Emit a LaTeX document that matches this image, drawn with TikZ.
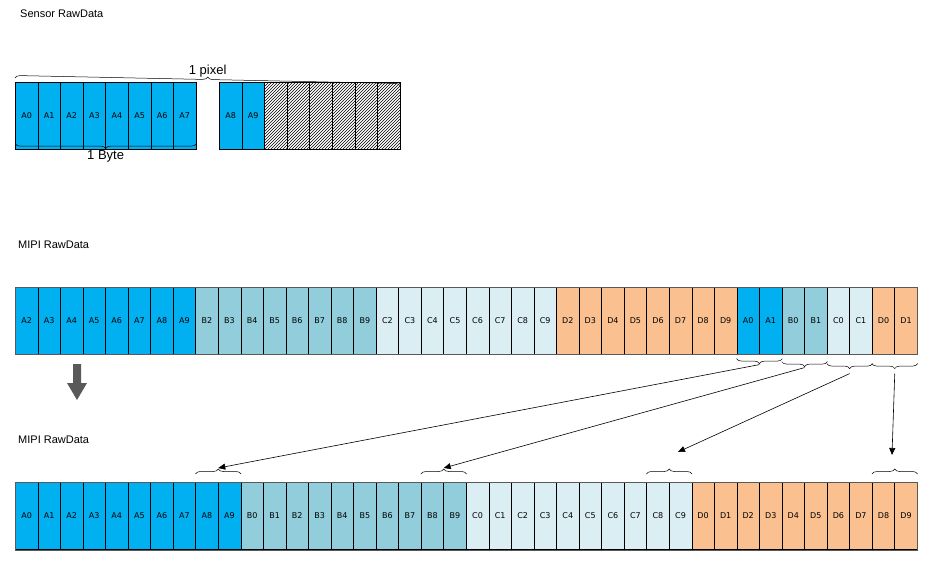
\documentclass[tikz,border=0pt]{standalone}
\usepackage{fontspec}
\setmainfont{Liberation Sans}
\newfontfamily\cellfont{DejaVu Sans}
\usetikzlibrary{patterns,decorations.pathreplacing,arrows.meta}
\definecolor{ca}{HTML}{00B0F0}
\definecolor{cb}{HTML}{92CDDC}
\definecolor{cc}{HTML}{DAEEF3}
\definecolor{cd}{HTML}{FAC090}
\tikzset{
 cell/.style={draw=black,line width=0.6pt,minimum width=22.55pt,minimum height=67pt,inner sep=0pt,anchor=north west,font=\cellfont\fontsize{8}{9}\selectfont},
 lbl/.style={font=\fontsize{11}{13}\selectfont,anchor=west,inner sep=0pt},
 br/.style={decorate,decoration={brace,amplitude=5pt},line width=0.5pt},
 con/.style={-{Triangle[length=7pt,width=6pt]},line width=0.6pt}
}
\begin{document}
\begin{tikzpicture}[x=1pt,y=-1pt]
\useasboundingbox (0,0) rectangle (946,570);
\node[lbl] (t1) at (20,14) {Sensor RawData};
\node[lbl] (t2) at (18,245) {MIPI RawData};
\node[lbl] (t3) at (18,440) {MIPI RawData};
% sensor row
\foreach \i in {0,...,7}{\node[cell,fill=ca] (s\i) at ({15+\i*22.6},82) {A\i};}
\node[cell,fill=ca] (s8) at (219,82) {A8};
\node[cell,fill=ca] (s9) at (241.6,82) {A9};
\foreach \i in {0,...,5}{\node[cell,pattern=north east lines] (h\i) at ({264.2+\i*22.6},82) {};}
\draw[br] (s0.north west)++(0,-4) -- node[above=5pt,font=\fontsize{13}{15}\selectfont,inner sep=0pt] (p) {1 pixel} ([yshift=-4pt]h5.north east);
\draw[br] ([yshift=6pt]s7.south east) -- node[below=7pt,font=\fontsize{13}{15}\selectfont,inner sep=0pt] (by) {1 Byte} ([yshift=6pt]s0.south west);
% MIPI row 1
\foreach \l [count=\k from 0] in {A2,A3,A4,A5,A6,A7,A8,A9}{\node[cell,fill=ca] (r\k) at ({15+\k*22.55},287) {\l};}
\foreach \l [count=\k from 8] in {B2,B3,B4,B5,B6,B7,B8,B9}{\node[cell,fill=cb] (r\k) at ({15+\k*22.55},287) {\l};}
\foreach \l [count=\k from 16] in {C2,C3,C4,C5,C6,C7,C8,C9}{\node[cell,fill=cc] (r\k) at ({15+\k*22.55},287) {\l};}
\foreach \l [count=\k from 24] in {D2,D3,D4,D5,D6,D7,D8,D9}{\node[cell,fill=cd] (r\k) at ({15+\k*22.55},287) {\l};}
\foreach \l/\c [count=\k from 32] in {A0/ca,A1/ca,B0/cb,B1/cb,C0/cc,C1/cc,D0/cd,D1/cd}{\node[cell,fill=\c] (r\k) at ({15+\k*22.55},287) {\l};}
\draw[gray!70!black,line width=0.8pt] (15,287) rectangle (917,354);
% braces under row 1
\draw[br] ([yshift=-4pt]r33.south east) -- coordinate[pos=0.5,yshift=-6pt] (ba) ([yshift=-4pt]r32.south west);
\draw[br] ([yshift=-7pt]r35.south east) -- coordinate[pos=0.5,yshift=-6pt] (bb) ([yshift=-7pt]r34.south west);
\draw[br] ([yshift=-9pt]r37.south east) -- coordinate[pos=0.5,yshift=-6pt] (bc) ([yshift=-9pt]r36.south west);
\draw[br] ([yshift=-9pt]r39.south east) -- coordinate[pos=0.5,yshift=-6pt] (bd) ([yshift=-9pt]r38.south west);
% gray arrow
\fill[gray!70!black] (73,364) -- (81,364) -- (81,383) -- (87,383) -- (77,400) -- (67,383) -- (73,383) -- cycle;
% MIPI row 2
\foreach \g/\c [count=\j from 0] in {A/ca,B/cb,C/cc,D/cd}{
 \foreach \i in {0,...,9}{\pgfmathtruncatemacro\n{\j*10+\i}
  \node[cell,fill=\c] (q\n) at ({15+\n*22.55},482) {\g\i};}}
\draw[gray!70!black,line width=0.8pt] (15,482) rectangle (917,550);
% braces above row 2
\draw[br] ([yshift=8pt]q8.north west) -- coordinate[pos=0.5,yshift=6pt] (ta) ([yshift=8pt]q9.north east);
\draw[br] ([yshift=8pt]q18.north west) -- coordinate[pos=0.5,yshift=6pt] (tb) ([yshift=8pt]q19.north east);
\draw[br] ([yshift=8pt]q28.north west) -- coordinate[pos=0.5,yshift=6pt] (tc) ([yshift=8pt]q29.north east);
\draw[br] ([yshift=8pt]q38.north west) -- coordinate[pos=0.5,yshift=6pt] (td) ([yshift=8pt]q39.north east);
\coordinate (tcx) at (678,452);
\coordinate (tdx) at (892,455);
\draw[con] (ba) -- (ta);
\draw[con] (bb) -- (tb);
\draw[con] ([yshift=-4pt]bc) -- (tcx);
\draw[con] ([yshift=-4pt]bd) -- (tdx);
\end{tikzpicture}
\end{document}
